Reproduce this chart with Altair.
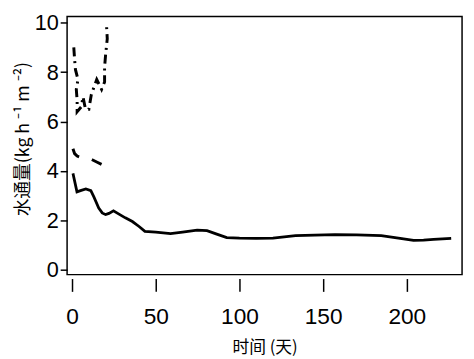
import altair as alt
import pandas as pd

# Series 1: solid line
solid_x = [0.5, 2.9, 5, 8.2, 11.2, 13, 15.9, 18, 20, 22, 24.7, 28, 31.8, 36, 40, 43.5, 50, 58.8, 66, 74.7,
           80.6, 86, 92.4, 100, 110, 120, 133.5, 145, 157, 170, 184.7, 196, 204, 210, 216, 226.5]
solid_y = [3.9, 3.15, 3.2, 3.27, 3.2, 2.95, 2.5, 2.3, 2.23, 2.28, 2.38, 2.25, 2.1, 1.95, 1.75, 1.55, 1.52, 1.46, 1.52, 1.6,
           1.58, 1.45, 1.3, 1.28, 1.27, 1.28, 1.38, 1.4, 1.42, 1.41, 1.38, 1.27, 1.19, 1.2, 1.23, 1.27]

# Series 2: dashed line
dash_x = [0.5, 1.5, 3, 5, 7, 9, 12, 15, 18, 20]
dash_y = [4.9, 4.7, 4.6, 4.55, 4.6, 4.55, 4.45, 4.35, 4.25, 4.15]

# Series 3: dash-dot line
dd_x = [1.0, 1.5, 2.0, 3.5, 2.5, 3.0, 3.0, 5.5, 6.5, 8.0, 10.0, 11.5, 14.7, 17.6, 19.4, 19.4, 20.0, 21.0, 20.6]
dd_y = [9.0, 8.5, 8.1, 7.7, 7.3, 6.85, 6.4, 6.6, 7.0, 6.5, 6.5, 7.1, 7.7, 7.3, 7.6, 8.2, 8.7, 9.35, 9.85]

x_ticks = [0, 50, 100, 150, 200]
y_ticks = [0, 2, 4, 6, 8, 10]

W, H = 401, 262


def frame(xs, ys):
    return pd.DataFrame({"t": xs, "v": ys, "o": list(range(len(xs)))})


xscale = alt.Scale(domain=[-3, 233], nice=False, zero=False)
yscale = alt.Scale(domain=[-0.2, 10.25], nice=False, zero=False)

FONT = "Liberation Sans"

xaxis = alt.Axis(values=x_ticks, title="时间 (天)")
yaxis = alt.Axis(values=y_ticks, title="水通量(kg h ⁻¹  m ⁻²)")

X = alt.X("t:Q", scale=xscale, axis=xaxis)
Y = alt.Y("v:Q", scale=yscale, axis=yaxis)

solid = alt.Chart(frame(solid_x, solid_y)).mark_line(color="black", strokeWidth=2.8).encode(
    x=X, y=Y, order="o:Q")
dashed = alt.Chart(frame(dash_x, dash_y)).mark_line(color="black", strokeWidth=3, strokeDash=[11, 14]).encode(
    x=X, y=Y, order="o:Q")
dashdot = alt.Chart(frame(dd_x, dd_y)).mark_line(color="black", strokeWidth=3, strokeDash=[9, 5, 2, 5]).encode(
    x=X, y=Y, order="o:Q")
box = alt.Chart(pd.DataFrame({"a": [0]})).mark_rect(fill="transparent", stroke="black", strokeWidth=1.5).encode(
    x=alt.value(0), x2=alt.value(W), y=alt.value(0), y2=alt.value(H))

chart = alt.layer(solid, dashed, dashdot, box).properties(
    width=W, height=H,
    autosize=alt.AutoSizeParams(type="none"),
    padding={"left": 60, "top": 6, "right": 4, "bottom": 85},
    background="white",
).configure_view(
    strokeWidth=0
).configure_axis(
    grid=False, domain=False, tickColor="black", tickWidth=1.5,
    labelColor="black", labelFont=FONT,
    titleColor="black", titleFontWeight="normal", titleFont="Noto Sans CJK SC",
).configure_axisX(
    offset=4, tickSize=13, labelPadding=15, labelFontSize=23, titleFontSize=17, titlePadding=11,
).configure_axisY(
    tickSize=7, labelPadding=2, labelFontSize=22, titleFontSize=18, titleX=-44, titleY=124, titleAngle=270,
    titleAlign="center", titleBaseline="middle",
)

chart.save("out.html", embed_options={"renderer": "svg", "actions": False})
